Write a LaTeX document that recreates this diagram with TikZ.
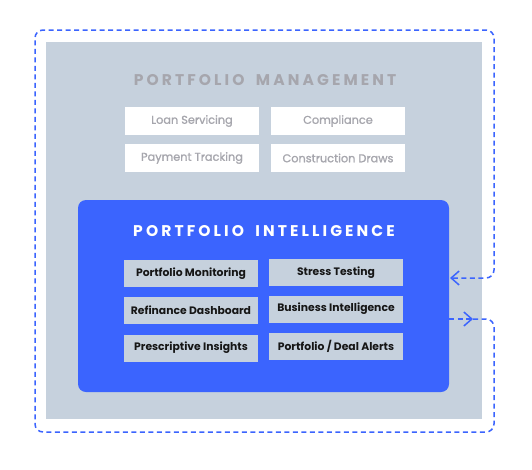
\documentclass[tikz,border=0pt]{standalone}
\usepackage{fontspec}
\setmainfont{Poppins}
\newfontfamily\headfont[LetterSpace=20, WordSpace=1.8]{Poppins}
\newfontfamily\medfont[FakeBold=1.2]{Poppins}
\usetikzlibrary{arrows.meta}
\definecolor{pmgray}{HTML}{C6D1DD}
\definecolor{piblue}{HTML}{3B64FE}
\definecolor{pmtext}{HTML}{A6A6AD}
\definecolor{pitext}{HTML}{161616}
\begin{document}
\begin{tikzpicture}
      [x=1pt, y=-1pt,
      every node/.style={inner sep=0pt, align=center},
      pmbox/.style={fill=white, minimum width=134pt, minimum height=28pt, text=pmtext,
        font=\medfont\fontsize{11.3}{13}\selectfont},
      pibox/.style={fill=pmgray, minimum width=134pt, minimum height=27pt, text=pitext,
        font=\fontsize{10.8}{13}\selectfont\bfseries},
      head/.style={font=\headfont\fontsize{15.5}{19}\selectfont\bfseries},
      flow/.style={draw=piblue, line width=1.5pt, dash pattern=on 5pt off 3.5pt,
        rounded corners=8pt},
      barb/.style={-{Straight Barb[length=8pt, width=14pt]}},
      ]
      \useasboundingbox (0,0) rectangle (532,469);
      % outer management panel
      \fill[pmgray] (46,42) rectangle (482,419);
      \node[head, text=pmtext] (pmtitle) at (265,80) {PORTFOLIO MANAGEMENT};
      \node[pmbox] (loan) at (192,121) {Loan Servicing};
      \node[pmbox] (comp) at (338,121) {Compliance};
      \node[pmbox] (pay) at (192,158) {Payment Tracking};
      \node[pmbox] (draws) at (338,158) {Construction Draws};
      % intelligence panel
      \fill[piblue, rounded corners=8pt] (78,200) rectangle (449,392);
      \coordinate (piin) at (450,278);
      \coordinate (piout) at (449,319);
      \node[head, text=white] (pititle) at (264,231) {PORTFOLIO INTELLIGENCE};
      \node[pibox] (monitor) at (191,273.5) {Portfolio Monitoring};
      \node[pibox] (refi) at (191,310.5) {Refinance Dashboard};
      \node[pibox] (insight) at (191,348) {Prescriptive Insights};
      \node[pibox] (stress) at (336,272.5) {Stress Testing};
      \node[pibox] (bi) at (336,309) {Business Intelligence};
      \node[pibox] (alerts) at (336,346) {Portfolio / Deal Alerts};
      % feedback loop
      \coordinate (mid) at (473,319);
      \draw[flow, barb] (piout) -- (mid);
      \draw[flow, barb] (mid) -- (494,319) -- (494,432) -- (35,432) -- (35,30)
        -- (494,30) -- (494,278) -- (piin);
      \end{tikzpicture}
\end{document}
